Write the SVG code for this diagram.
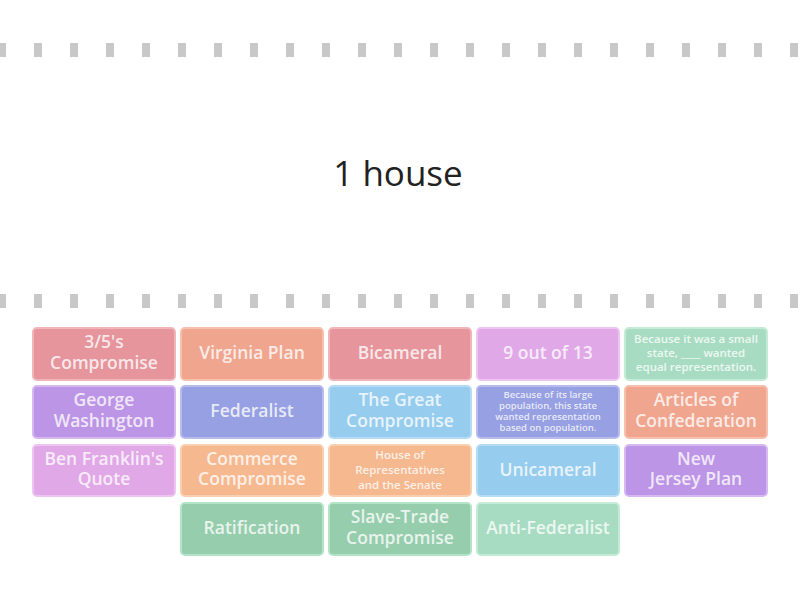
<svg xmlns="http://www.w3.org/2000/svg" width="800" height="600" viewBox="0 0 800 600">
<defs>
<pattern id="dash" x="-2" y="0" width="36" height="600" patternUnits="userSpaceOnUse"><rect x="0" y="0" width="8" height="600" fill="#c8c8c8"/></pattern>
</defs>
<style>
.t{stroke-width:2;}
.l{font-family:"Open Sans",sans-serif;font-weight:600;fill:#fff;fill-opacity:0.8;text-anchor:middle;}
.b{font-size:17.5px}
.s{font-size:11.5px}
.x{font-size:9.5px}
</style>
<rect width="800" height="600" fill="#fff"/>
<rect x="0" y="43" width="800" height="14" fill="url(#dash)"/>
<rect x="0" y="294" width="800" height="14" fill="url(#dash)"/>
<text x="398" y="186" font-family="Open Sans,sans-serif" font-size="35" fill="#222" text-anchor="middle">1 house</text>
<g id="n1"><rect class="t" x="33" y="328" width="142" height="52" rx="4" fill="#e5959b" stroke="#f1b5b9"/><text class="l b" x="104" y="348">3/5's</text><text class="l b" x="104" y="369">Compromise</text></g>
<g id="n2"><rect class="t" x="181" y="328" width="142" height="52" rx="4" fill="#f0a58e" stroke="#f6c0ae"/><text class="l b" x="252" y="359">Virginia Plan</text></g>
<g id="n3"><rect class="t" x="329" y="328" width="142" height="52" rx="4" fill="#e5959b" stroke="#f1b5b9"/><text class="l b" x="400" y="359">Bicameral</text></g>
<g id="n4"><rect class="t" x="477" y="328" width="142" height="52" rx="4" fill="#e1a8e8" stroke="#eec4f2"/><text class="l b" x="548" y="359">9 out of 13</text></g>
<g id="n5"><rect class="t" x="625" y="328" width="142" height="52" rx="4" fill="#a8dcc2" stroke="#c4ebd6"/><text class="l s" x="696" y="343">Because it was a small</text><text class="l s" x="696" y="357">state, ____ wanted</text><text class="l s" x="696" y="371">equal representation.</text></g>
<g id="n6"><rect class="t" x="33" y="386" width="142" height="52" rx="4" fill="#bc95e6" stroke="#d6b9f2"/><text class="l b" x="104" y="406">George</text><text class="l b" x="104" y="427">Washington</text></g>
<g id="n7"><rect class="t" x="181" y="386" width="142" height="52" rx="4" fill="#96a0e2" stroke="#b6bcee"/><text class="l b" x="252" y="417">Federalist</text></g>
<g id="n8"><rect class="t" x="329" y="386" width="142" height="52" rx="4" fill="#96cced" stroke="#b6dcf5"/><text class="l b" x="400" y="406">The Great</text><text class="l b" x="400" y="427">Compromise</text></g>
<g id="n9"><rect class="t" x="477" y="386" width="142" height="52" rx="4" fill="#96a0e2" stroke="#b6bcee"/><text class="l x" x="548" y="398">Because of its large</text><text class="l x" x="548" y="409">population, this state</text><text class="l x" x="548" y="420">wanted representation</text><text class="l x" x="548" y="431">based on population.</text></g>
<g id="n10"><rect class="t" x="625" y="386" width="142" height="52" rx="4" fill="#f0a58e" stroke="#f6c0ae"/><text class="l b" x="696" y="406">Articles of</text><text class="l b" x="696" y="427">Confederation</text></g>
<g id="n11"><rect class="t" x="33" y="445" width="142" height="51" rx="4" fill="#e1a8e8" stroke="#eec4f2"/><text class="l b" x="104" y="465">Ben Franklin's</text><text class="l b" x="104" y="485">Quote</text></g>
<g id="n12"><rect class="t" x="181" y="445" width="142" height="51" rx="4" fill="#f5b88f" stroke="#f9cfb2"/><text class="l b" x="252" y="465">Commerce</text><text class="l b" x="252" y="485">Compromise</text></g>
<g id="n13"><rect class="t" x="329" y="445" width="142" height="51" rx="4" fill="#f5b88f" stroke="#f9cfb2"/><text class="l s" x="400" y="459">House of</text><text class="l s" x="400" y="474">Representatives</text><text class="l s" x="400" y="489">and the Senate</text></g>
<g id="n14"><rect class="t" x="477" y="445" width="142" height="51" rx="4" fill="#96cced" stroke="#b6dcf5"/><text class="l b" x="548" y="476">Unicameral</text></g>
<g id="n15"><rect class="t" x="625" y="445" width="142" height="51" rx="4" fill="#bc95e6" stroke="#d6b9f2"/><text class="l b" x="696" y="465">New</text><text class="l b" x="696" y="485">Jersey Plan</text></g>
<g id="n16"><rect class="t" x="181" y="503" width="142" height="52" rx="4" fill="#96cdad" stroke="#b4e4c8"/><text class="l b" x="252" y="534">Ratification</text></g>
<g id="n17"><rect class="t" x="329" y="503" width="142" height="52" rx="4" fill="#96cdad" stroke="#b4e4c8"/><text class="l b" x="400" y="523">Slave-Trade</text><text class="l b" x="400" y="544">Compromise</text></g>
<g id="n18"><rect class="t" x="477" y="503" width="142" height="52" rx="4" fill="#a8dcc2" stroke="#c4ebd6"/><text class="l b" x="548" y="534">Anti-Federalist</text></g>
<g id="connectors"/>
</svg>
